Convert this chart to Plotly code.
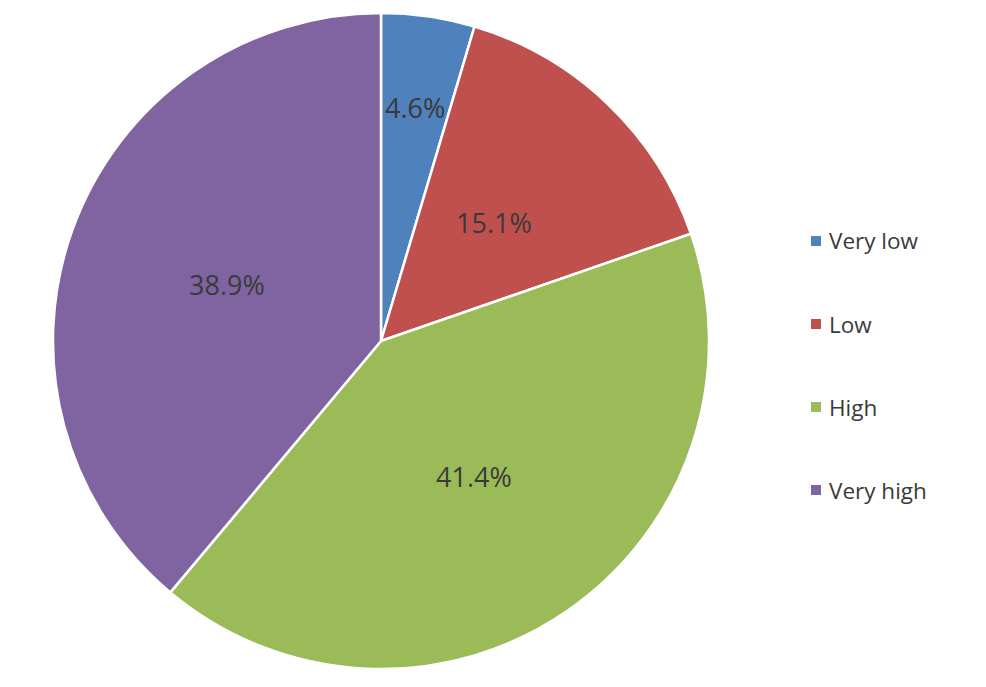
import math
import plotly.graph_objects as go

categories = ["Very low", "Low", "High", "Very high"]
values = [4.6, 15.1, 41.4, 38.9]
colors = ["#4F81BD", "#C0504D", "#9BBB59", "#8064A2"]
label_texts = ["4.6%", "15.1%", "41.4%", "38.9%"]
label_radius = [0.72, 0.5, 0.5, 0.5]

W, H = 986, 687
cx, cy, R = 381, 341, 328

fig = go.Figure()
fig.add_trace(go.Pie(
    labels=categories, values=values, sort=False, direction="clockwise",
    rotation=0, marker=dict(colors=colors, line=dict(color="white", width=2.5)),
    textinfo="none", hoverinfo="label+percent", showlegend=False,
    domain=dict(x=[(cx - R) / W, (cx + R) / W], y=[1 - (cy + R) / H, 1 - (cy - R) / H]),
))

font_family = "Open Sans, Liberation Sans, Arial"
total = sum(values)
cum = 0.0
annotations = []
for v, txt, fr in zip(values, label_texts, label_radius):
    mid = (cum + v / 2) / total * 2 * math.pi
    cum += v
    px = cx + fr * R * math.sin(mid)
    py = cy - fr * R * math.cos(mid)
    annotations.append(dict(x=px / W, y=1 - py / H, xref="paper", yref="paper",
                            text=txt, showarrow=False,
                            font=dict(size=27, color="#3A3A3A", family=font_family),
                            xanchor="center", yanchor="middle"))

shapes = []
leg_x, leg_y0, leg_dy, sq = 816, 241, 83, 10
for i, (cat, col) in enumerate(zip(categories, colors)):
    yy = leg_y0 + i * leg_dy
    shapes.append(dict(type="rect", xref="paper", yref="paper",
                       x0=(leg_x - sq / 2) / W, x1=(leg_x + sq / 2) / W,
                       y0=1 - (yy + sq / 2) / H, y1=1 - (yy - sq / 2) / H,
                       fillcolor=col, line=dict(width=0)))
    annotations.append(dict(x=827 / W, y=1 - yy / H, xref="paper", yref="paper",
                            text=cat, showarrow=False, xanchor="left", yanchor="middle",
                            font=dict(size=22.5, color="#3A3A3A", family=font_family)))

fig.update_layout(width=W, height=H, margin=dict(l=0, r=0, t=0, b=0),
                  paper_bgcolor="white", plot_bgcolor="white",
                  annotations=annotations, shapes=shapes)
fig.write_html("out.html")
